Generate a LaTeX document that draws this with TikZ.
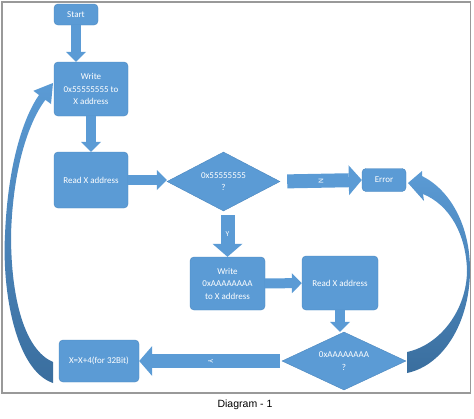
\documentclass[tikz,border=0pt]{standalone}
\usepackage{fontspec}
\setmainfont{Carlito}
\newfontfamily\capfont{Liberation Sans}
\usepackage{tikz}
\usetikzlibrary{arrows.meta,positioning,calc,shapes.geometric}
\definecolor{boxblue}{HTML}{5B9BD5}
\definecolor{edgeblue}{HTML}{4A86BE}
\definecolor{darkblue}{HTML}{3A6E9E}
\tikzset{
  box/.style={draw=edgeblue, fill=boxblue, rounded corners=4pt, text=white, align=center,
    inner sep=1pt, font=\fontsize{9}{12.5}\selectfont},
  decision/.style={diamond, draw=edgeblue, fill=boxblue, text=white, align=center, aspect=2,
    inner sep=0pt, font=\fontsize{9}{12.5}\selectfont},
  flow/.style={draw=boxblue, line width=10pt, -{Triangle[length=10pt,width=20pt,line width=0pt]}},
  bigflow/.style={draw=boxblue, line width=14pt, -{Triangle[length=13pt,width=30pt,line width=0pt]}},
  arrlab/.style={text=white, font=\fontsize{7.5}{8}\selectfont, inner sep=0pt},
  loop/.style={top color=boxblue, bottom color=darkblue, draw=none},
}
\begin{document}
\begin{tikzpicture}[x=1pt,y=-1pt]
\useasboundingbox (0,0) rectangle (474,418);
\draw[gray!80, line width=1.5pt] (2,2) rectangle (470.5,393);
% boxes
\node[box, minimum width=44pt, minimum height=21pt] (start) at (76,14.5) {Start};
\node[box, minimum width=74pt, minimum height=54pt] (write1) at (91,89) {Write\\0x55555555 to\\X address};
\node[box, minimum width=74pt, minimum height=56pt] (read1) at (91,180) {Read X address};
\node[decision, minimum width=113pt, minimum height=59pt] (dec1) at (223.5,181.5) {0x55555555\\?};
\node[box, minimum width=44pt, minimum height=23pt] (error) at (384,180) {Error};
\node[box, minimum width=75pt, minimum height=53pt] (write2) at (227.5,283.5) {Write\\0xAAAAAAAA\\to X address};
\node[box, minimum width=76pt, minimum height=54pt] (read2) at (340,283) {Read X address};
\node[decision, minimum width=124pt, minimum height=58pt] (dec2) at (344,361) {0xAAAAAAAA\\?};
\node[box, minimum width=80pt, minimum height=42pt] (incr) at (99,361) {X=X+4(for 32Bit)};
% block arrows
\draw[flow] (start) -- (start |- write1.north);
\draw[flow] (write1) -- (read1);
\draw[flow] (read1.east) -- (read1.east -| dec1.west);
\draw[bigflow, shorten <=7pt] (dec1.east) -- node[arrlab, rotate=90]{N} (error.west);
\draw[bigflow, shorten <=4pt] (write2.north |- dec1.south) -- node[arrlab]{Y} (write2.north);
\draw[flow] (write2) -- (read2);
\draw[flow] (read2.south) -- (read2.south |- dec2.north);
\draw[bigflow, shorten <=2pt] (dec2.west) -- node[arrlab, rotate=-90]{Y} (incr.east);
% loop back arrows
\shade[loop] (53,383) .. controls (15,370) and (2,290) .. (5,235)
  .. controls (8,160) and (25,115) .. (39,95) -- (33.4,90.8) -- (53,83) -- (51,104) -- (45.4,99.8)
  .. controls (30,120) and (13,165) .. (11,235) .. controls (11,300) and (25,350) .. (53,362) -- cycle;
\shade[loop] (407,373) .. controls (445,365) and (470,320) .. (470,270)
  .. controls (470,225) and (450,190) .. (422,176) -- (422,171) -- (408,183) -- (424,201) -- (423,194)
  .. controls (450,205) and (466,235) .. (467,270) .. controls (467,310) and (440,345) .. (407,352) -- cycle;
\node[font=\capfont\fontsize{10.5}{12}\selectfont] (caption) at (245,405) {Diagram - 1};
\end{tikzpicture}
\end{document}
